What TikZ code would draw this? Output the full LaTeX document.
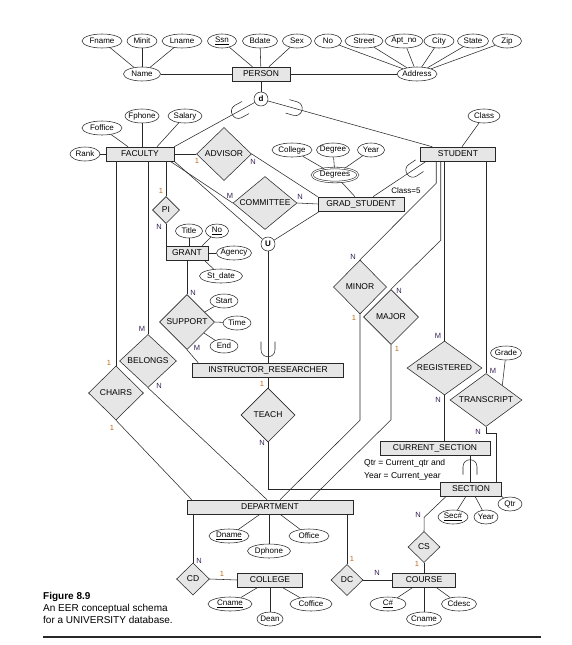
\documentclass[tikz,border=0pt]{standalone}
\usepackage{fontspec}
\setmainfont{Liberation Sans}
\usetikzlibrary{shapes.geometric}
\usetikzlibrary{positioning}
\usetikzlibrary{calc}

\definecolor{linec}{RGB}{40,40,40}
\definecolor{boxfill}{RGB}{230,230,230}
\definecolor{onecol}{RGB}{190,105,30}
\definecolor{manycol}{RGB}{55,35,85}

\tikzset{
  conn/.style={draw=linec, line width=0.55pt},
  entity/.style={draw=linec, fill=boxfill, minimum height=14pt, inner sep=1pt, line width=0.55pt},
  attr/.style={draw=linec, fill=white, ellipse, inner xsep=-1.5pt, inner ysep=0pt, minimum height=14pt, line width=0.55pt, font=\fontsize{8}{9}\selectfont},
  rel/.style={draw=linec, fill=boxfill, diamond, aspect=1.35, inner sep=0pt, line width=0.55pt},
  gencirc/.style={draw=linec, fill=white, circle, inner sep=0pt, minimum size=14pt, line width=0.55pt, font=\fontsize{8}{9}\selectfont\bfseries},
  cardone/.style={text=onecol, inner sep=0pt, font=\fontsize{7.5}{8}\selectfont},
  cardmany/.style={text=manycol, inner sep=0pt, font=\fontsize{7.5}{8}\selectfont}
}
% subset symbol: open side points to the superclass
\newcommand{\subsetcup}[2]{%
  \begin{scope}[shift={(#1)}, rotate=#2]
    \draw[conn] (-7,-8) -- (-7,0) .. controls (-7,9.3) and (7,9.3) .. (7,0) -- (7,-8);
  \end{scope}}

\begin{document}
\begin{tikzpicture}[x=1pt,y=1pt,yscale=-1,font=\fontsize{8.5}{10}\selectfont]
\useasboundingbox (0,0) rectangle (572,645);

%PERSON and its attributes
\node[entity, minimum width=58pt] (person) at (261,74) {PERSON};
\node[attr, minimum width=40pt] (fname) at (102,41) {Fname};
\node[attr, minimum width=30pt] (minit) at (142,41) {Minit};
\node[attr, minimum width=40pt] (lname) at (182,41) {Lname};
\node[attr, minimum width=29pt] (ssn) at (222,41) {\underline{Ssn}};
\node[attr, minimum width=35pt] (bdate) at (260,41) {Bdate};
\node[attr, minimum width=29pt] (sex) at (297,41) {Sex};
\node[attr, minimum width=27pt] (no) at (328,41) {No};
\node[attr, minimum width=38pt] (street) at (364,41) {Street};
\node[attr, minimum width=38pt] (aptno) at (404,41) {Apt\_no};
\node[attr, minimum width=30pt] (city) at (439,41) {City};
\node[attr, minimum width=31pt] (state) at (473,41) {State};
\node[attr, minimum width=29pt] (zip) at (507,41) {Zip};
\node[attr, minimum width=37pt] (name) at (142,74) {Name};
\node[attr, minimum width=40pt] (address) at (417,74) {Address};
\foreach \a in {fname,minit,lname} \draw[conn] (\a) -- (name);
\foreach \a in {ssn,bdate,sex} \draw[conn] (\a) -- (person);
\foreach \a in {no,street,aptno,city,state,zip} \draw[conn] (\a) -- (address);
\draw[conn] (name) -- (person);
\draw[conn] (person) -- (address);

%disjoint specialization
\node[gencirc] (d) at (261,99) {d};
\draw[conn] (person) -- (d);

%FACULTY
\node[entity, minimum width=68pt] (fac) at (140,154) {FACULTY};
\node[attr, minimum width=34pt] (fphone) at (142,116) {Fphone};
\node[attr, minimum width=34pt] (salary) at (185,116) {Salary};
\node[attr, minimum width=40pt] (foffice) at (102,128) {Foffice};
\node[attr, minimum width=30pt] (rank) at (85,154) {Rank};
\draw[conn] (fphone) -- (fphone |- fac.north);
\draw[conn] (salary) -- ($(fac.north)+(17,0)$);
\draw[conn] (foffice) -- ($(fac.north)+(-12,0)$);
\draw[conn] (rank) -- (fac);

%STUDENT and GRAD_STUDENT
\node[entity, minimum width=75pt] (stud) at (458,154) {STUDENT};
\node[attr, minimum width=32pt] (class) at (484,116) {Class};
\draw[conn] (class) -- ($(stud.north)+(4,0)$);
\node[entity, minimum width=86pt] (grad) at (361,204) {GRAD\_STUDENT};
\node[attr, double, double distance=1.1pt, minimum width=46pt, minimum height=14pt] (degrees) at (335,175) {Degrees};
\node[attr, minimum width=40pt] (collegeat) at (292,150) {College};
\node[attr, minimum width=33pt] (degree) at (333,150) {Degree};
\node[attr, minimum width=27pt] (yearg) at (371,150) {Year};
\foreach \a in {collegeat,degree,yearg} \draw[conn] (\a) -- (degrees);
\draw[conn] (degrees) -- ($(grad.north)+(-6,0)$);

\coordinate (facend) at (fac.north east);
\coordinate (studend) at ($(stud.north west)+(12,0)$);
\coordinate (gradtop) at ($(stud.south west)+(6,0)$);
\coordinate (gradend) at ($(grad.north)+(12,0)$);
\draw[conn] (d) -- (facend);
\coordinate (cupa) at ($(d)!0.26!(facend)$);
\subsetcup{cupa}{61}
\draw[conn] (d) -- (studend);
\coordinate (cupb) at ($(d)!0.2!(studend)$);
\subsetcup{cupb}{-74.4}
\draw[conn] (gradtop) -- (gradend);
\coordinate (cupc) at ($(gradtop)!0.25!(gradend)$);
\subsetcup{cupc}{56}
\node[inner sep=0pt, font=\fontsize{8}{9}\selectfont] (classfive) at (406,191) {Class=5};

%ADVISOR and COMMITTEE
\node[rel, minimum width=55pt, minimum height=53pt] (advisor) at (224,154) {ADVISOR};
\draw[conn] (fac.east) -- (advisor.west);
\draw[conn] (advisor.east) -- (grad.north west);
\node[rel, minimum width=64pt, minimum height=53pt] (committee) at (265,203) {COMMITTEE};
\draw[conn] ($(fac.south east)+(-4,0)$) -- (committee.west);
\draw[conn] (committee.east) -- (grad.west);

%union category
\node[gencirc] (u) at (268,244) {U};
\draw[conn] (fac.south east) -- (u);
\draw[conn] (u) -- ($(grad.south west)+(2,0)$);
\node[entity, minimum width=151pt] (instr) at (268,370) {INSTRUCTOR\_RESEARCHER};
\draw[conn] (u) -- (instr.north);
\coordinate (cupd) at ($(instr.north)+(0,-13)$);
\subsetcup{cupd}{0}

%PI, GRANT, SUPPORT
\node[rel, minimum width=27pt, minimum height=27pt] (pi) at (166,210) {PI};
\draw[conn] (pi.north |- fac.south) -- (pi.north);
\node[entity, minimum width=42pt] (grant) at (187,253) {GRANT};
\draw[conn] (pi.south) -- (pi.south |- grant.north);
\node[attr, minimum width=27pt] (title) at (189,231) {Title};
\node[attr, minimum width=23pt] (grantno) at (217,231) {\underline{No}};
\node[attr, minimum width=35pt] (agency) at (234,253) {Agency};
\node[attr, minimum width=43pt] (stdate) at (221,276) {St\_date};
\draw[conn] (title) -- (title |- grant.north);
\draw[conn] (grantno) -- ($(grant.north east)+(-6,0)$);
\draw[conn] (agency) -- (grant.east);
\draw[conn] (stdate) -- ($(grant.south east)+(-4,0)$);
\node[rel, minimum width=55pt, minimum height=55pt] (support) at (187,322) {SUPPORT};
\draw[conn] (grant.south) -- (support.north);
\node[attr, minimum width=28pt] (start) at (224,301) {Start};
\node[attr, minimum width=28pt] (time) at (237,323) {Time};
\node[attr, minimum width=28pt] (end) at (224,346) {End};
\draw[conn] (support) -- (start);
\draw[conn] (support.east) -- (time);
\draw[conn] (support) -- (end);
\draw[conn] (support.south) -- ($(instr.north west)+(6,0)$);

%DEPARTMENT side
\node[entity, minimum width=166pt] (dept) at (270,507) {DEPARTMENT};
\node[rel, minimum width=57pt, minimum height=53pt] (belongs) at (148,361) {BELONGS};
\node[rel, minimum width=55pt, minimum height=54pt] (chairs) at (116,393) {CHAIRS};
\draw[conn] (belongs.north |- fac.south) -- (belongs.north);
\draw[conn] (chairs.north |- fac.south) -- (chairs.north);
\draw[conn] (belongs.south) -- ($(dept.north)+(-3,0)$);
\draw[conn] (chairs.south) -- ($(dept.north west)+(5,0)$);
\node[rel, minimum width=54pt, minimum height=54pt] (teach) at (268,415) {TEACH};
\draw[conn] (instr.south) -- (teach.north);

%MINOR, MAJOR, REGISTERED, TRANSCRIPT
\node[rel, minimum width=53pt, minimum height=54pt] (minor) at (360,287) {MINOR};
\node[rel, minimum width=55pt, minimum height=55pt] (major) at (391,317) {MAJOR};
\node[rel, minimum width=75pt, minimum height=54pt] (registered) at (444.5,368) {REGISTERED};
\node[rel, minimum width=72pt, minimum height=53pt] (transcript) at (486,400) {TRANSCRIPT};
\node[attr, minimum width=31pt] (grade) at (506,353) {Grade};
\draw[conn] ($(stud.south west)+(16,0)$) -- ++(0,22) -- (minor.north);
\draw[conn] (minor.south) -- ++(0,106) -- ($(dept.north)+(10,0)$);
\draw[conn] ($(stud.south west)+(20.5,0)$) -- ++(0,79) -- (major.north);
\draw[conn] (major.south) -- ++(0,75) -- ($(dept.north)+(40,0)$);
\draw[conn] (registered.north |- stud.south) -- (registered.north);
\draw[conn] (transcript.north |- stud.south) -- (transcript.north);
\draw[conn] (grade) -- ($(transcript.north)!0.45!(transcript.east)$);

%SECTION and CURRENT_SECTION
\node[entity, minimum width=110pt] (cursec) at (435,448) {CURRENT\_SECTION};
\node[entity, minimum width=61pt] (sect) at (471,489) {SECTION};
\draw[conn] (registered.south) -- (registered.south |- cursec.north);
\draw[conn] (transcript.south) -- ++(0,6) -| ($(sect.north)+(25,0)$);
\draw[conn] ($(cursec.south)+(35,0)$) -- ($(sect.north)+(-1,0)$);
\coordinate (cupe) at ($(sect.north)+(-1,-15)$);
\subsetcup{cupe}{180}
\node[anchor=west, align=left, inner sep=0pt, font=\fontsize{8.5}{13}\selectfont] (qtrnote) at (364,470) {Qtr = Current\_qtr and\\Year = Current\_year};
\draw[conn] (teach.south) |- (sect.west);
\node[attr, minimum width=30pt] (secno) at (453,517) {\underline{Sec\#}};
\node[attr, minimum width=24pt] (syear) at (486,517) {Year};
\node[attr, minimum width=24pt] (qtr) at (510,504) {Qtr};
\draw[conn] (secno) -- ($(sect.south)+(-5,0)$);
\draw[conn] (syear) -- ($(sect.south)+(4,0)$);
\draw[conn] (qtr) -- (sect.south east);

%COURSE and COLLEGE
\node[rel, minimum width=32pt, minimum height=31pt] (cs) at (424,547) {CS};
\node[entity, minimum width=63pt] (course) at (424,580) {COURSE};
\draw[conn] ($(sect.south west)+(6,0)$) -- ++(-22,21) -- (cs.north);
\draw[conn] (cs.south) -- (course.north);
\node[rel, minimum width=32pt, minimum height=31pt] (dc) at (347,580) {DC};
\draw[conn] (dc.north |- dept.south) -- (dc.north);
\draw[conn] (dc.east) -- (course.west);
\node[rel, minimum width=33pt, minimum height=32pt] (cd) at (193,579) {CD};
\node[entity, minimum width=65pt] (college) at (270,580) {COLLEGE};
\draw[conn] (cd.north |- dept.south) -- (cd.north);
\draw[conn] (cd.east) -- (college.west);

\node[attr, minimum width=40pt] (dname) at (229,536) {\underline{Dname}};
\node[attr, minimum width=43pt] (dphone) at (269,551) {Dphone};
\node[attr, minimum width=40pt] (office) at (309,536) {Office};
\draw[conn] (dname) -- ($(dept.south)+(-10,0)$);
\draw[conn] (dphone) -- (dphone |- dept.south);
\draw[conn] (office) -- ($(dept.south)+(10,0)$);

\node[attr, minimum width=44pt] (cname) at (230,604) {\underline{Cname}};
\node[attr, minimum width=26pt] (dean) at (270,619) {Dean};
\node[attr, minimum width=42pt] (coffice) at (311,604) {Coffice};
\draw[conn] (cname) -- ($(college.south)+(-12,0)$);
\draw[conn] (dean) -- (college.south);
\draw[conn] (coffice) -- ($(college.south)+(12,0)$);

\node[attr, minimum width=36pt] (cnum) at (388,604) {\underline{C\#}};
\node[attr, minimum width=35pt] (crname) at (424,619) {Cname};
\node[attr, minimum width=35pt] (cdesc) at (459,604) {Cdesc};
\draw[conn] (cnum) -- ($(course.south)+(-11,0)$);
\draw[conn] (crname) -- (course.south);
\draw[conn] (cdesc) -- ($(course.south)+(12,0)$);

%cardinalities
\node[cardone] (l1) at (197,161) {1};
\node[cardmany] (l2) at (253,162) {N};
\node[cardmany] (l3) at (230,196) {M};
\node[cardmany] (l4) at (300,197) {N};
\node[cardone] (l5) at (161,191) {1};
\node[cardmany] (l6) at (159,227) {N};
\node[cardmany] (l7) at (193,293) {N};
\node[cardmany] (l8) at (197,348) {M};
\node[cardmany] (l9) at (142,329) {M};
\node[cardmany] (l10) at (159,386) {N};
\node[cardone] (l11) at (109,363) {1};
\node[cardone] (l12) at (112,428) {1};
\node[cardone] (l13) at (262,384) {1};
\node[cardmany] (l14) at (262,443) {N};
\node[cardmany] (l15) at (353,257) {N};
\node[cardone] (l16) at (354,318) {1};
\node[cardmany] (l17) at (399,291) {N};
\node[cardone] (l18) at (397,349) {1};
\node[cardmany] (l19) at (438,336) {M};
\node[cardmany] (l20) at (438,400) {N};
\node[cardmany] (l21) at (493,371) {M};
\node[cardmany] (l22) at (478,432) {N};
\node[cardmany] (l23) at (418,515) {N};
\node[cardone] (l24) at (417,564) {1};
\node[cardone] (l25) at (352,559) {1};
\node[cardmany] (l26) at (377,573) {N};
\node[cardmany] (l27) at (199,561) {N};
\node[cardone] (l28) at (222,574) {1};

%caption
\node[anchor=north west, align=left, inner sep=0pt, font=\fontsize{10}{12}\selectfont] (caption) at (43,592) {\textbf{Figure 8.9}\\An EER conceptual schema\\for a UNIVERSITY database.};
\coordinate (rulea) at (43,637);
\coordinate (ruleb) at (541,637);
\draw[linec, line width=1.1pt] (rulea) -- (ruleb);
\end{tikzpicture}
\end{document}
